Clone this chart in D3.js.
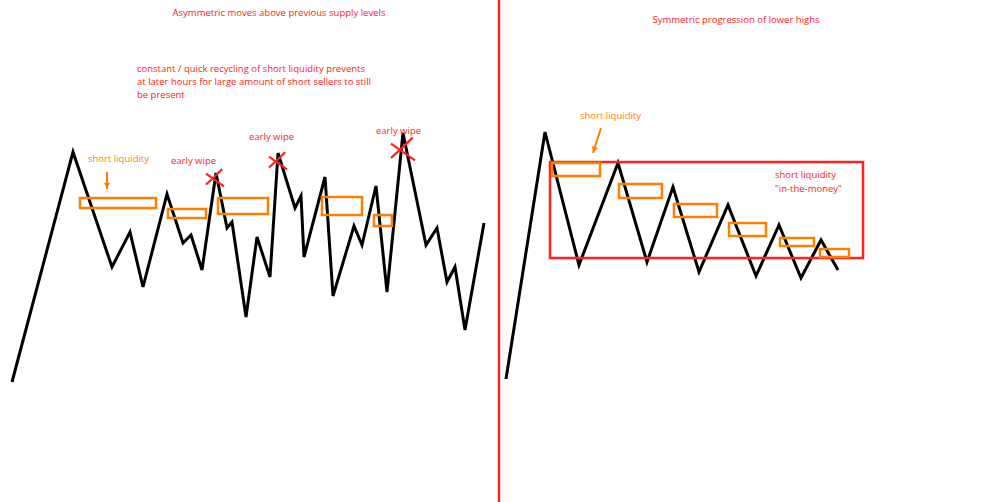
<!DOCTYPE html>
<html><head><meta charset="utf-8">
<script src="https://d3js.org/d3.v7.min.js"></script>
<style>body{margin:0;background:#fff}svg{display:block}</style>
</head><body>
<script>
// Data (sketch units: time t, price p; higher p = higher on chart)
const leftT = [12,73,112,130,143,167,183,191,202,216,227,232,246,257,270,278,295,301,304,325,333,354,362,376,387,403,426,437,447,455,465,484];
const leftP = [120,350,235,270,215,308,259,267,232,329,274,280,185,265,225,349,294,306,245,325,206,276,257,316,210,369,257,274,220,235,172,279];
const leftBoxes = [[80,156,304,294],[168,206,293,284],[218,268,304,288],[322,362,305,287],[374,392,287,276]];
const leftX = [[215,322],[278,339],[403,350]];
const rightT = [506,545,579,618,647,673,699,728,756,779,801,821,838];
const rightP = [123,370,237,339,240,315,230,297,226,277,224,262,232];
const rightBoxes = [[552,600,339,326],[619,662,318,304],[674,717,298,285],[729,766,279,266],[780,814,264,256],[820,849,253,245]];
const inMoneyBox = [550,863,340,244];
const titles = ["Asymmetric moves above previous supply levels","Symmetric progression of lower highs"];
const para = ["constant / quick recycling of short liquidity prevents","at later hours for large amount of short sellers to still","be present"];

const W=999,H=502;
const svg=d3.select("body").append("svg").attr("width",W).attr("height",H);
const x=d3.scaleLinear().domain([0,999]).range([0,W]);
const y=d3.scaleLinear().domain([0,502]).range([H,0]);
const font="'Open Sans', 'Liberation Sans', sans-serif";
const RED="#ff2020", ORG="#ff8000";

svg.append("line").attr("x1",x(499)).attr("x2",x(499)).attr("y1",0).attr("y2",H).attr("stroke",RED).attr("stroke-width",2.5);

const line=d3.line().x(d=>x(d[0])).y(d=>y(d[1]));
function drawLine(T,P){svg.append("path").attr("d",line(T.map((t,i)=>[t,P[i]]))).attr("fill","none").attr("stroke","#000").attr("stroke-width",3).attr("stroke-linejoin","miter");}
drawLine(leftT,leftP); drawLine(rightT,rightP);

svg.append("rect").attr("x",x(inMoneyBox[0])).attr("y",y(inMoneyBox[2])).attr("width",x(inMoneyBox[1])-x(inMoneyBox[0])).attr("height",y(inMoneyBox[3])-y(inMoneyBox[2])).attr("fill","none").attr("stroke",RED).attr("stroke-width",2.5);
function boxes(B){B.forEach(b=>svg.append("rect").attr("x",x(b[0])).attr("y",y(b[2])).attr("width",x(b[1])-x(b[0])).attr("height",y(b[3])-y(b[2])).attr("fill","none").attr("stroke",ORG).attr("stroke-width",2.5));}
boxes(leftBoxes); boxes(rightBoxes);

// X marks
leftX.forEach((m,i)=>{const cx=x(m[0]),cy=y(m[1]),s=i==2?12:9;
  svg.append("path").attr("d",`M${cx-s},${cy-s*0.7}L${cx+s},${cy+s*0.7}M${cx-s},${cy+s*0.5}Q${cx},${cy-s*0.4} ${cx+s*0.8},${cy-s*1.2}`).attr("fill","none").attr("stroke",RED).attr("stroke-width",2.2);});

// arrows
function arrow(x1,y1,x2,y2){svg.append("line").attr("x1",x1).attr("y1",y1).attr("x2",x2).attr("y2",y2).attr("stroke",ORG).attr("stroke-width",2);
  const a=Math.atan2(y2-y1,x2-x1),l=7;
  svg.append("path").attr("d",`M${x2},${y2}L${x2-l*Math.cos(a-0.45)},${y2-l*Math.sin(a-0.45)}L${x2-l*Math.cos(a+0.45)},${y2-l*Math.sin(a+0.45)}Z`).attr("fill",ORG);}
arrow(107,172,107,189); arrow(601,128,593,153);

function txt(t,tx,ty,col,anchor){svg.append("text").attr("x",tx).attr("y",ty).attr("fill",col).attr("font-family",font).attr("font-size",9.5).attr("text-anchor",anchor||"start").text(t);}
txt(titles[0],279,16,RED,"middle"); txt(titles[1],736,23,RED,"middle");
para.forEach((p,i)=>txt(p,137,72+i*13,RED));
txt("short liquidity",88,162,ORG); txt("short liquidity",580,119,ORG);
txt("early wipe",171,164,RED); txt("early wipe",249,140,RED); txt("early wipe",376,134,RED);
txt("short liquidity",775,178,RED); txt("\"in-the-money\"",775,192,RED);
</script>
</body></html>
